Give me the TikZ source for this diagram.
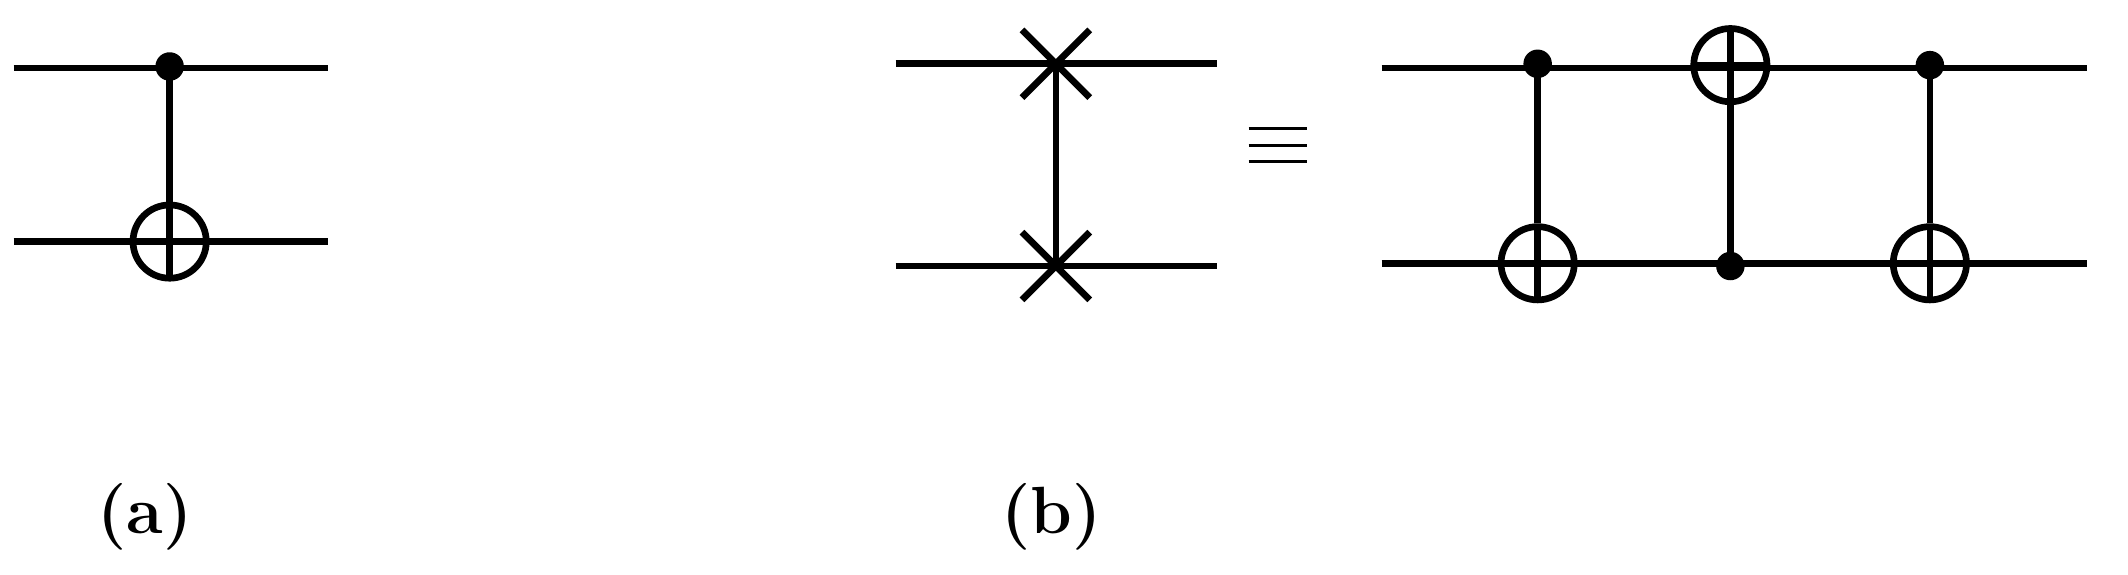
\documentclass[tikz,border=0pt]{standalone}
\begin{document}
\begin{tikzpicture}[x=0.02cm,y=-0.02cm,line width=2.8pt,
  ctrl/.style={circle,fill=black,inner sep=0pt,minimum size=0.42cm},
  targ/.style={circle,draw,inner sep=0pt,minimum size=1.08cm,
    path picture={\draw[line width=2.8pt] (path picture bounding box.north)--(path picture bounding box.south) (path picture bounding box.west)--(path picture bounding box.east);}},
  swp/.style={inner sep=0pt,minimum size=0.9cm},
  lbl/.style={font=\fontsize{28}{32}\selectfont\bfseries}]
\useasboundingbox (0,0) rectangle (1568,423);
% (a)
\coordinate (a1l) at (10,50); \coordinate (a1r) at (242,50);
\coordinate (a2l) at (10,178); \coordinate (a2r) at (242,178);
\draw (a1l)--(a1r); \draw (a2l)--(a2r);
\node[ctrl] (ac) at (125,49) {};
\node[targ] (at) at (125,178) {};
\draw (ac.center)--(at.north);
\node[lbl] (la) at (107,381) {(a)};
% (b) swap
\coordinate (b1l) at (660,47); \coordinate (b1r) at (897,47);
\coordinate (b2l) at (660,196); \coordinate (b2r) at (897,196);
\draw (b1l)--(b1r); \draw (b2l)--(b2r);
\node[swp] (s1) at (778,47) {};
\node[swp] (s2) at (778,196) {};
\draw (s1.north west)--(s1.south east) (s1.north east)--(s1.south west);
\draw (s2.north west)--(s2.south east) (s2.north east)--(s2.south west);
\draw (s1.center)--(s2.center);
% equiv
\node[inner sep=0pt] (eq) at (942,107) {};
\draw[line width=1.3pt] (920,95)--(963,95) (920,107)--(963,107) (920,119)--(963,119);
% right circuit
\coordinate (c1l) at (1018,50); \coordinate (c1r) at (1538,50);
\coordinate (c2l) at (1018,194); \coordinate (c2r) at (1538,194);
\draw (c1l)--(c1r); \draw (c2l)--(c2r);
\node[ctrl] (g1c) at (1133,47) {};
\node[targ] (g1t) at (1133,194) {};
\draw (g1c.center)--(g1t.north);
\node[targ] (g2t) at (1275,48) {};
\node[ctrl] (g2c) at (1275,196) {};
\draw (g2t.south)--(g2c.center);
\node[ctrl] (g3c) at (1422,48) {};
\node[targ] (g3t) at (1422,194) {};
\draw (g3c.center)--(g3t.north);
\node[lbl] (lb) at (775,381) {(b)};
\end{tikzpicture}
\end{document}
